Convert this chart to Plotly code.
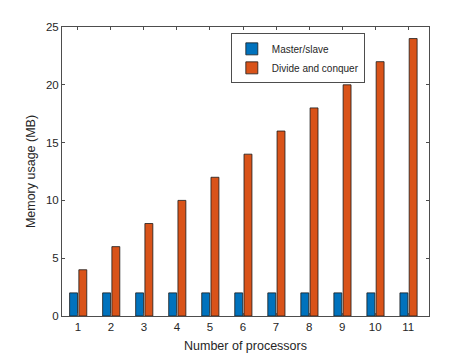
import plotly.graph_objects as go

processors = [1, 2, 3, 4, 5, 6, 7, 8, 9, 10, 11]
master_slave = [2, 2, 2, 2, 2, 2, 2, 2, 2, 2, 2]
divide_conquer = [4, 6, 8, 10, 12, 14, 16, 18, 20, 22, 24]
y_ticks = [0, 5, 10, 15, 20, 25]

font_fam = "Liberation Sans, Arial, sans-serif"
axis_col = "#4d4d4d"
text_col = "#262626"

fig = go.Figure()
fig.add_trace(go.Bar(
    x=processors, y=master_slave, name="Master/slave",
    marker=dict(color="#0072BD", line=dict(color="#1a1a1a", width=0.8)),
    width=0.24, offset=-0.25,
))
fig.add_trace(go.Bar(
    x=processors, y=divide_conquer, name="Divide and conquer",
    marker=dict(color="#D95319", line=dict(color="#1a1a1a", width=0.8)),
    width=0.24, offset=0.03,
))

fig.update_layout(
    width=474, height=356,
    margin=dict(l=62, r=45, t=27, b=40),
    paper_bgcolor="white", plot_bgcolor="white",
    font=dict(family=font_fam, color=text_col, size=11),
    barmode="group",
    showlegend=True,
    legend=dict(
        x=0.46, y=0.978, xanchor="left", yanchor="top",
        bordercolor=axis_col, borderwidth=1, bgcolor="white",
        font=dict(size=10, color=text_col),
        tracegroupgap=0, itemwidth=30,
    ),
)
fig.update_xaxes(
    range=[0.52, 11.63], automargin=False,
    tickmode="array", tickvals=processors, ticktext=[str(p) for p in processors],
    showline=True, linecolor=axis_col, linewidth=1, mirror="ticks",
    ticks="inside", ticklen=3, tickcolor=axis_col,
    showgrid=False, zeroline=False,
    tickfont=dict(size=11.5, color=text_col),
    title=dict(text="Number of processors", font=dict(size=12.5, color=text_col), standoff=9),
)
fig.update_yaxes(
    range=[0, 25], automargin=False,
    tickmode="array", tickvals=y_ticks,
    showline=True, linecolor=axis_col, linewidth=1, mirror="ticks",
    ticks="inside", ticklen=3, tickcolor=axis_col,
    showgrid=False, zeroline=False,
    tickfont=dict(size=11.5, color=text_col),
    title=dict(text="Memory usage (MB)", font=dict(size=12.5, color=text_col), standoff=7),
)

fig.write_html(
    "out.html",
    config={"displayModeBar": False},
    post_script="document.body.style.margin='0';document.body.style.overflow='hidden';",
)
